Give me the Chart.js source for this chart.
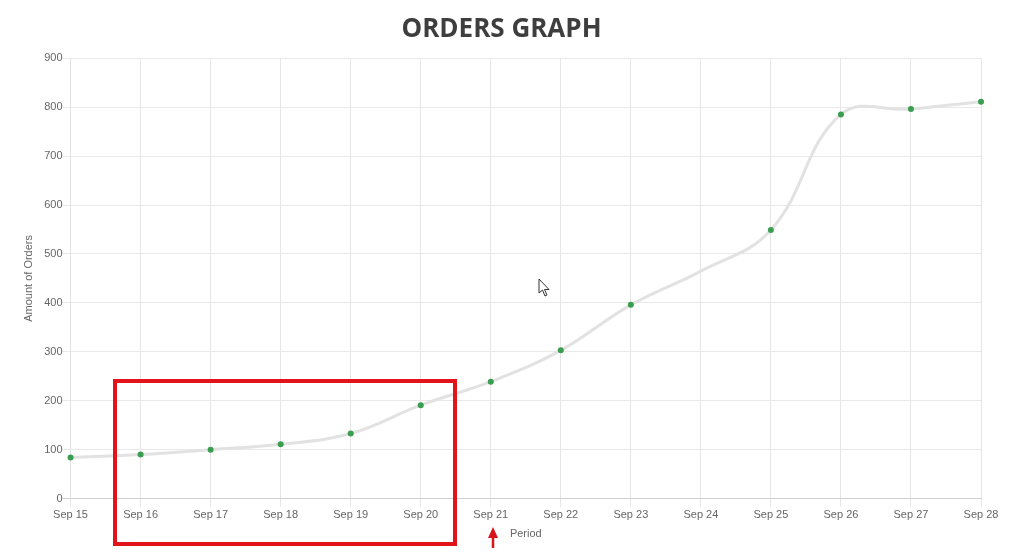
<!DOCTYPE html>
<html>
<head>
<meta charset="utf-8">
<script src="https://cdn.jsdelivr.net/npm/chart.js@4"></script>
<style>
  body { margin: 0; background: #fff; }
  #wrap { position: relative; width: 1024px; height: 554px; }
  #box { position: absolute; left: 113px; top: 379px; width: 336px; height: 159px; border: 4px solid #e3131b; }
  .overlay { position: absolute; left: 0; top: 0; pointer-events: none; }
</style>
</head>
<body>
<div id="wrap">
  <canvas id="ordersChart"></canvas>
  <div id="box"></div>
  <svg class="overlay" width="1024" height="554">
    <!-- red arrow under Sep 21 -->
    <line x1="493" y1="548" x2="493" y2="537" stroke="#d8141b" stroke-width="2.5"/>
    <polygon points="493,527 488,538 498,538" fill="#d8141b"/>
    <!-- mouse pointer -->
    <polygon points="539,279 539,293 542.5,290 545,296 547,295 544.5,289.5 549,289.5" fill="#fff" stroke="#333" stroke-width="1"/>
  </svg>
</div>
<script>
// orders per day
var days = ['Sep 15', 'Sep 16', 'Sep 17', 'Sep 18', 'Sep 19', 'Sep 20', 'Sep 21',
            'Sep 22', 'Sep 23', 'Sep 24', 'Sep 25', 'Sep 26', 'Sep 27', 'Sep 28'];
var orders = [84, 90, 100, 111, 133, 191, 239, 303, 396, 465, 549, 785, 796, 811];
// no marker shown on Sep 24 in the original
var showPoint = [1, 1, 1, 1, 1, 1, 1, 1, 1, 0, 1, 1, 1, 1];

var ctx = document.getElementById('ordersChart');
var chart = new Chart(ctx, {
    type: 'line',
    data: {
        labels: days,
        datasets: [{
            label: 'Orders',
            data: orders,
            borderColor: '#e2e2e2',
            borderWidth: 3,
            backgroundColor: '#3a9d4f',
            pointBackgroundColor: '#3a9d4f',
            pointBorderColor: '#3a9d4f',
            pointBorderWidth: 0,
            pointRadius: showPoint.map(function (s) { return s ? 3 : 0; }),
            tension: 0.4,
            fill: false
        }]
    },
    options: {
        responsive: true,
        maintainAspectRatio: false,
        animation: false,
        layout: { padding: { left: 22, right: 43, top: 0, bottom: 13 } },
        plugins: {
            legend: { display: false },
            tooltip: { enabled: false },
            title: {
                display: true,
                text: 'ORDERS GRAPH',
                color: '#3e3e3e',
                font: { family: '"Open Sans"', size: 26, weight: 'bold' },
                padding: { top: 14, bottom: 13 }
            }
        },
        scales: {
            x: {
                grid: { color: '#e6e6e6', tickLength: 8 },
                border: { color: '#d0d0d0' },
                ticks: { color: '#666', font: { family: 'Liberation Sans', size: 11 }, maxRotation: 0, padding: 2 },
                title: {
                    display: true,
                    text: 'Period',
                    color: '#666',
                    font: { family: 'Liberation Sans', size: 11 },
                    padding: { top: 4, bottom: 0 }
                }
            },
            y: {
                min: 0,
                max: 900,
                grid: {
                    color: function (c) { return c.tick.value === 0 ? '#cfcfcf' : '#e9e9e9'; },
                    tickLength: 8
                },
                border: { color: '#e0e0e0' },
                ticks: { stepSize: 100, color: '#666', font: { family: 'Liberation Sans', size: 11 }, padding: 0 },
                title: {
                    display: true,
                    text: 'Amount of Orders',
                    color: '#666',
                    font: { family: 'Liberation Sans', size: 11 },
                    padding: { top: 0, bottom: 9 }
                }
            }
        }
    }
});
</script>
</body>
</html>
